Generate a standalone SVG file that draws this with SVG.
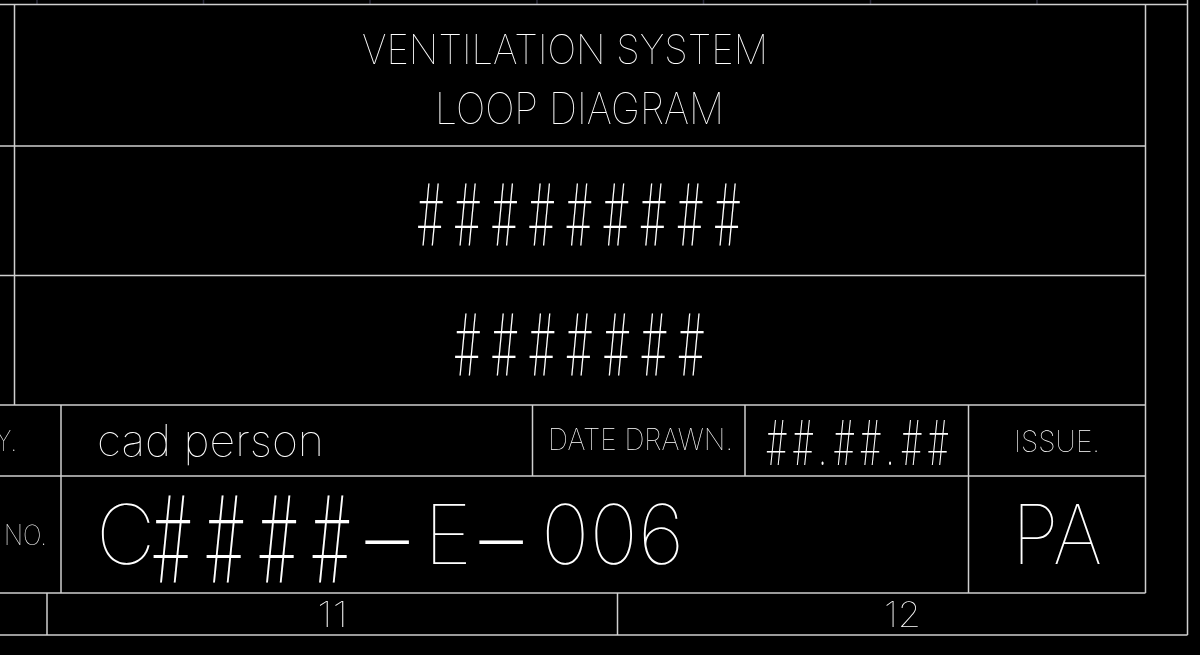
<svg xmlns="http://www.w3.org/2000/svg" width="1200" height="655" viewBox="0 0 1200 655">
<style>
.bg{fill:#000}
.ln{stroke:#cfcfcf;stroke-width:1.5;fill:none}
.tk{stroke:#2c2c3c;stroke-width:1.5}
.t{fill:#ffffff;font-family:Inter,"Liberation Sans",sans-serif;font-weight:100}
.h{font-family:Roboto,Inter,sans-serif;font-weight:100}
</style>
<defs>
<filter id="gray" x="0" y="0" width="1200" height="655" filterUnits="userSpaceOnUse"><feOffset dx="0" dy="0"/></filter>
</defs>
<rect class="bg" x="0" y="0" width="1200" height="655"/>
<g id="ticks">
<line class="tk" x1="37" y1="0" x2="37" y2="4"/>
<line class="tk" x1="203.5" y1="0" x2="203.5" y2="4"/>
<line class="tk" x1="370" y1="0" x2="370" y2="4"/>
<line class="tk" x1="537" y1="0" x2="537" y2="4"/>
<line class="tk" x1="703.5" y1="0" x2="703.5" y2="4"/>
<line class="tk" x1="870.5" y1="0" x2="870.5" y2="4"/>
<line class="tk" x1="1037" y1="0" x2="1037" y2="4"/>
</g>
<g id="frame">
<line class="ln" x1="0" y1="4.5" x2="1187.5" y2="4.5"/>
<line class="ln" x1="1187.5" y1="0" x2="1187.5" y2="635"/>
<line class="ln" x1="14.5" y1="4.5" x2="14.5" y2="405"/>
<line class="ln" x1="1145.5" y1="4.5" x2="1145.5" y2="593"/>
<line class="ln" x1="0" y1="146" x2="1145.5" y2="146"/>
<line class="ln" x1="0" y1="275.5" x2="1145.5" y2="275.5"/>
<line class="ln" x1="0" y1="405" x2="1145.5" y2="405"/>
<line class="ln" x1="0" y1="476" x2="1145.5" y2="476"/>
<line class="ln" x1="0" y1="593" x2="1145.5" y2="593"/>
<line class="ln" x1="0" y1="635" x2="1187.5" y2="635"/>
<line class="ln" x1="61" y1="405" x2="61" y2="593"/>
<line class="ln" x1="532.5" y1="405" x2="532.5" y2="476"/>
<line class="ln" x1="745" y1="405" x2="745" y2="476"/>
<line class="ln" x1="968.5" y1="405" x2="968.5" y2="593"/>
<line class="ln" x1="47" y1="593" x2="47" y2="635"/>
<line class="ln" x1="617.5" y1="593" x2="617.5" y2="635"/>
</g>
<g id="texts" filter="url(#gray)">
<g id="title">
<text class="t" x="362" y="64" font-size="41" textLength="406" lengthAdjust="spacingAndGlyphs">VENTILATION  SYSTEM</text>
<text class="t" x="435" y="123.5" font-size="43" textLength="289" lengthAdjust="spacingAndGlyphs">LOOP  DIAGRAM</text>
</g>
<g id="code1">
<text class="t h" x="417" y="245" font-size="87" letter-spacing="24" textLength="334" lengthAdjust="spacingAndGlyphs">#########</text>
</g>
<g id="code2">
<text class="t h" x="454" y="375" font-size="87" letter-spacing="24" textLength="261" lengthAdjust="spacingAndGlyphs">#######</text>
</g>
<g id="drawn-by">
<text class="t" x="-4" y="451" font-size="28" textLength="21" lengthAdjust="spacingAndGlyphs">Y.</text>
<text class="t" x="97" y="456" font-size="43" textLength="227" lengthAdjust="spacingAndGlyphs">cad  person</text>
</g>
<g id="date">
<text class="t h" x="766" y="465" font-size="63" letter-spacing="12" textLength="188" lengthAdjust="spacingAndGlyphs">##.##.##</text>
<text class="t" x="548" y="450" font-size="30" textLength="185" lengthAdjust="spacingAndGlyphs">DATE  DRAWN.</text>
</g>
<g id="issue">
<text class="t" x="1014" y="451.5" font-size="29" textLength="86" lengthAdjust="spacingAndGlyphs">ISSUE.</text>
<text class="t" x="1012" y="564" font-size="82" textLength="90" lengthAdjust="spacingAndGlyphs">PA</text>
</g>
<g id="drawing-no">
<text class="t" x="4" y="545" font-size="28" textLength="43" lengthAdjust="spacingAndGlyphs">NO.</text>
<text class="t" y="564" font-size="82"><tspan x="96">C</tspan><tspan class="h" x="152" dy="19" font-size="122" letter-spacing="30" textLength="212" lengthAdjust="spacingAndGlyphs">####</tspan><tspan x="352" dy="9" font-size="160" letter-spacing="0">-</tspan><tspan x="424" dy="-28">E</tspan><tspan x="466" dy="28" font-size="160">-</tspan><tspan x="541" dy="-28">006</tspan></text>
</g>
<g id="columns">
<text class="t" x="317" y="627" font-size="35" textLength="31" lengthAdjust="spacingAndGlyphs">11</text>
<text class="t" x="884" y="627" font-size="35" textLength="37" lengthAdjust="spacingAndGlyphs">12</text>
</g>
</g>
</svg>
